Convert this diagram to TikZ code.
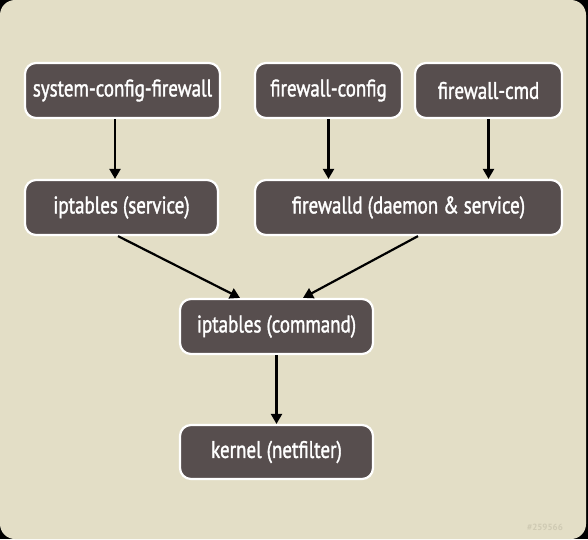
\documentclass[tikz,border=0pt]{standalone}
\usepackage{fontspec}
\setmainfont{PT Sans}
\newfontfamily\boxfont[FakeStretch=0.79,FakeBold=1.4]{PT Sans}
\usetikzlibrary{arrows.meta}
\definecolor{bgc}{HTML}{E3DEC6}
\definecolor{boxc}{HTML}{574E4E}
\definecolor{wmc}{HTML}{CFCAB3}
\tikzset{
  box/.style={draw=white, line width=2.2pt, fill=boxc, rounded corners=11pt,
    text=white, font=\boxfont\fontsize{24}{26}\selectfont, inner sep=0pt, anchor=center},
  arr/.style={line width=2.2pt, -{Triangle[width=11pt,length=10pt]}, black}
}
\begin{document}
\begin{tikzpicture}[x=1pt,y=-1pt]
\useasboundingbox (0,0) rectangle (588,539);
\fill[black] (0,0) rectangle (588,539);
\fill[bgc, rounded corners=15pt] (0,0) rectangle (586,539);
\node[box, minimum width=195pt, minimum height=55pt] (scf) at (122.5,90.5) {system-config-firewall};
\node[box, minimum width=147pt, minimum height=55pt] (fc) at (328.5,90.5) {firewall-config};
\node[box, minimum width=147pt, minimum height=55pt] (fcmd) at (488.5,90.5) {firewall-cmd};
\node[box, minimum width=193pt, minimum height=55pt] (ips) at (121.5,207.5) {iptables (service)};
\node[box, minimum width=307pt, minimum height=55pt] (fwd) at (408.5,207.5) {firewalld (daemon \& service)};
\node[box, minimum width=193pt, minimum height=55pt] (ipc) at (276.5,326.5) {iptables (command)};
\node[box, minimum width=193pt, minimum height=54pt] (kern) at (276.5,452) {kernel (netfilter)};
\node[text=wmc, font=\fontsize{9}{10}\selectfont\bfseries] (wm) at (545,527) {\#259566};
\draw[arr] (scf.south -| 115,0) -- (ips.north -| 115,0);
\draw[arr] (fc.south) -- (fwd.north -| fc.south);
\draw[arr] (fcmd.south) -- (fwd.north -| fcmd.south);
\draw[arr] (ips.south -| 118,0) -- (ipc.north -| 240,0);
\draw[arr] (fwd.south -| 418,0) -- (ipc.north -| 303,0);
\draw[arr] (ipc.south) -- (kern.north);
\end{tikzpicture}
\end{document}
